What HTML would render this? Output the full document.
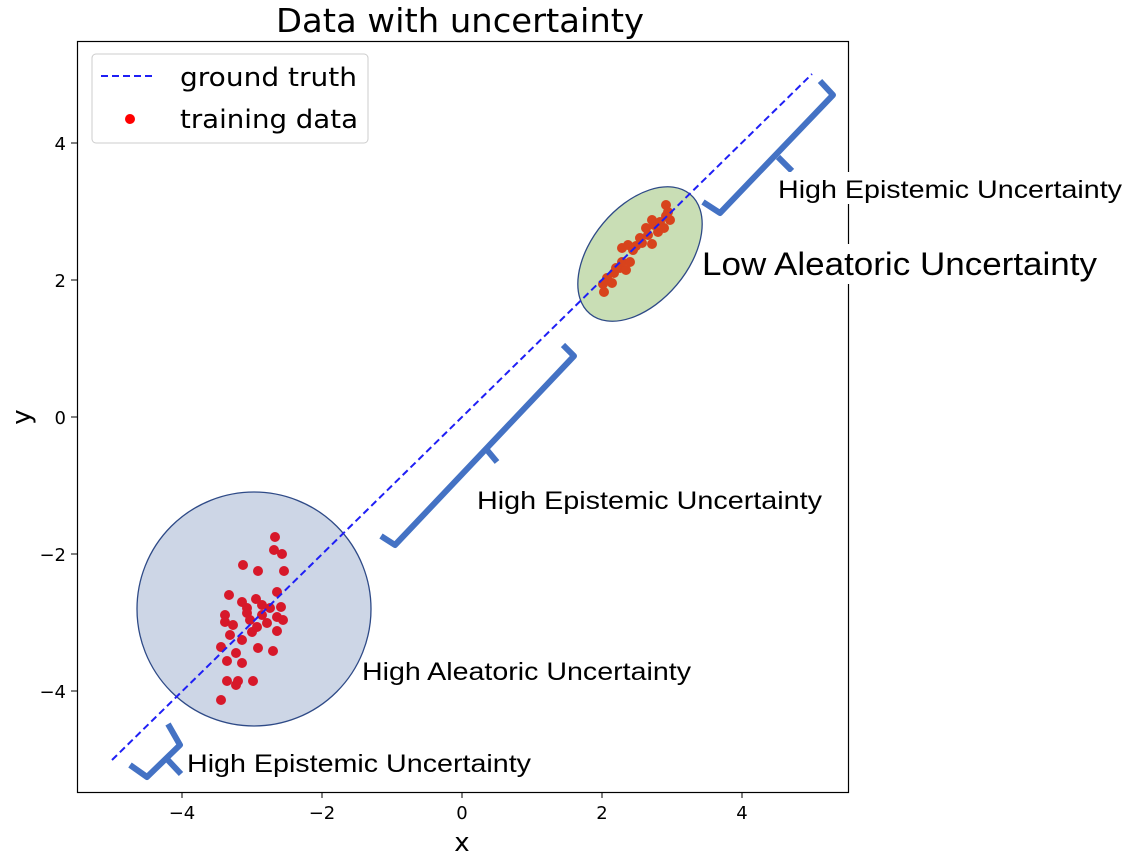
<!DOCTYPE html>
<html><head><meta charset="utf-8"><style>
body{margin:0;background:#fff}
svg text{font-family:"DejaVu Sans","Liberation Sans",sans-serif}
.a{font-family:"Liberation Sans",sans-serif !important}
</style></head><body>
<svg width="1132" height="858" viewBox="0 0 1132 858" xmlns="http://www.w3.org/2000/svg">
<rect width="1132" height="858" fill="#fff"/>
<text x="276" y="32" font-size="33" textLength="368" lengthAdjust="spacingAndGlyphs" fill="#000">Data with uncertainty</text>
<rect x="77.5" y="41.5" width="771" height="751" fill="none" stroke="#000" stroke-width="1.2"/>
<g stroke="#000" stroke-width="1">
<line x1="182" y1="792" x2="182" y2="798"/><line x1="322" y1="792" x2="322" y2="798"/><line x1="462" y1="792" x2="462" y2="798"/><line x1="602" y1="792" x2="602" y2="798"/><line x1="742" y1="792" x2="742" y2="798"/>
<line x1="71" y1="143" x2="77" y2="143"/><line x1="71" y1="280" x2="77" y2="280"/><line x1="71" y1="417" x2="77" y2="417"/><line x1="71" y1="554" x2="77" y2="554"/><line x1="71" y1="691" x2="77" y2="691"/>
</g>
<g font-size="18" fill="#000" text-anchor="middle">
<text x="182" y="819">−4</text><text x="322" y="819">−2</text><text x="462" y="819">0</text><text x="602" y="819">2</text><text x="742" y="819">4</text>
</g>
<g font-size="18" fill="#000" text-anchor="end">
<text x="66" y="150">4</text><text x="66" y="287">2</text><text x="66" y="424">0</text><text x="66" y="561">−2</text><text x="66" y="698">−4</text>
</g>
<text x="462" y="851" font-size="26" text-anchor="middle">x</text>
<text x="30" y="417" font-size="26" text-anchor="middle" transform="rotate(-90 30 417)">y</text>
<ellipse cx="254" cy="609" rx="117" ry="117" fill="#cdd6e6" stroke="#2e4a87" stroke-width="1.3"/>
<ellipse cx="640" cy="254" rx="78" ry="48" transform="rotate(-50 640 254)" fill="#c9deb5" stroke="#2e4a87" stroke-width="1.3"/>
<g fill="#d7182a">
<circle cx="275" cy="537" r="5"/><circle cx="274" cy="550" r="5"/><circle cx="282" cy="554" r="5"/><circle cx="243" cy="565" r="5"/><circle cx="258" cy="571" r="5"/><circle cx="284" cy="571" r="5"/><circle cx="229" cy="595" r="5"/><circle cx="242" cy="602" r="5"/><circle cx="256" cy="599" r="5"/><circle cx="277" cy="592" r="5"/><circle cx="281" cy="607" r="5"/><circle cx="225" cy="615" r="5"/><circle cx="225" cy="622" r="5"/><circle cx="247" cy="613" r="5"/><circle cx="262" cy="615" r="5"/><circle cx="270" cy="608" r="5"/><circle cx="283" cy="620" r="5"/><circle cx="277" cy="631" r="5"/><circle cx="252" cy="632" r="5"/><circle cx="230" cy="635" r="5"/><circle cx="242" cy="640" r="5"/><circle cx="221" cy="647" r="5"/><circle cx="258" cy="648" r="5"/><circle cx="273" cy="651" r="5"/><circle cx="236" cy="653" r="5"/><circle cx="227" cy="661" r="5"/><circle cx="242" cy="663" r="5"/><circle cx="227" cy="681" r="5"/><circle cx="238" cy="681" r="5"/><circle cx="253" cy="681" r="5"/><circle cx="236" cy="685" r="5"/><circle cx="221" cy="700" r="5"/><circle cx="250" cy="620" r="5"/><circle cx="257" cy="627" r="5"/><circle cx="267" cy="623" r="5"/><circle cx="277" cy="617" r="5"/><circle cx="247" cy="608" r="5"/><circle cx="262" cy="605" r="5"/><circle cx="233" cy="625" r="5"/>
</g>
<g fill="#d8431c">
<circle cx="604" cy="292" r="5"/><circle cx="603" cy="284" r="5"/><circle cx="607" cy="278" r="5"/><circle cx="612" cy="283" r="5"/><circle cx="614" cy="273" r="5"/><circle cx="620" cy="268" r="5"/><circle cx="626" cy="270" r="5"/><circle cx="622" cy="262" r="5"/><circle cx="630" cy="262" r="5"/><circle cx="622" cy="248" r="5"/><circle cx="628" cy="245" r="5"/><circle cx="636" cy="246" r="5"/><circle cx="642" cy="243" r="5"/><circle cx="640" cy="238" r="5"/><circle cx="648" cy="235" r="5"/><circle cx="652" cy="244" r="5"/><circle cx="646" cy="228" r="5"/><circle cx="654" cy="225" r="5"/><circle cx="652" cy="220" r="5"/><circle cx="660" cy="222" r="5"/><circle cx="664" cy="228" r="5"/><circle cx="658" cy="232" r="5"/><circle cx="666" cy="216" r="5"/><circle cx="670" cy="220" r="5"/><circle cx="666" cy="205" r="5"/><circle cx="668" cy="212" r="5"/><circle cx="633" cy="250" r="5"/><circle cx="616" cy="268" r="5"/>
</g>
<line x1="112" y1="760" x2="812" y2="74" stroke="#1f1ff5" stroke-width="2" stroke-dasharray="7,4"/>
<g fill="none" stroke="#4472c4" stroke-width="6" stroke-linejoin="round">
<path d="M703 202 L720 213 L833 95 L820 81"/><path d="M778 157 L792 171"/>
<path d="M381 536 L395 545 L574 356 L563 345"/><path d="M487 450 L497 462"/>
<path d="M130 765 L147 777 L180 745 L168 724"/><path d="M166 758 L181 774"/>
</g>
<rect x="92" y="54" width="276" height="89" rx="4" fill="#fff" fill-opacity="0.8" stroke="#ccc"/>
<line x1="101" y1="76" x2="156" y2="76" stroke="#1f1ff5" stroke-width="2" stroke-dasharray="7,4"/>
<circle cx="130" cy="119" r="5" fill="#f00"/>
<text x="180" y="86" font-size="26" textLength="177" lengthAdjust="spacingAndGlyphs">ground truth</text>
<text x="180" y="128" font-size="26" textLength="178" lengthAdjust="spacingAndGlyphs">training data</text>
<g fill="#000">
<rect x="776" y="172" width="350" height="32" fill="#fff"/>
<text class="a" x="778" y="198" font-size="25" textLength="344" lengthAdjust="spacingAndGlyphs">High Epistemic Uncertainty</text>
<rect x="700" y="244" width="400" height="40" fill="#fff"/>
<text class="a" x="702" y="275" font-size="32" textLength="395" lengthAdjust="spacingAndGlyphs">Low Aleatoric Uncertainty</text>
<text class="a" x="477" y="509" font-size="25" textLength="345" lengthAdjust="spacingAndGlyphs">High Epistemic Uncertainty</text>
<text class="a" x="362" y="680" font-size="25" textLength="329" lengthAdjust="spacingAndGlyphs">High Aleatoric Uncertainty</text>
<text class="a" x="187" y="772" font-size="25" textLength="344" lengthAdjust="spacingAndGlyphs">High Epistemic Uncertainty</text>
</g>
</svg>
</body></html>
